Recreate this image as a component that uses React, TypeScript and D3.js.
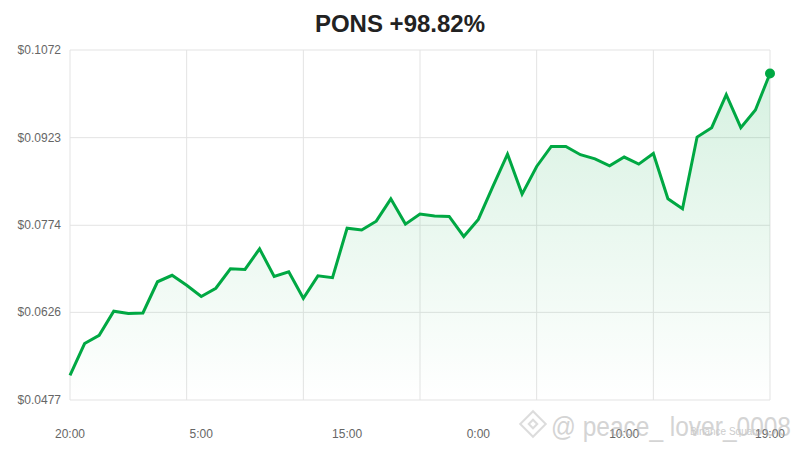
import { useEffect, useRef } from 'react'
import * as d3 from 'd3'

// hourly closes, 20:00 -> 19:00 (two days later)
const prices = [
  0.0519, 0.0573, 0.0587, 0.0628, 0.0624, 0.0625, 0.0678, 0.0689, 0.0672, 0.0653,
  0.0667, 0.0700, 0.0699, 0.0734, 0.0687, 0.0695, 0.0650, 0.0688, 0.0685, 0.0769,
  0.0766, 0.0781, 0.0819, 0.0776, 0.0793, 0.0790, 0.0789, 0.0755, 0.0784, 0.0840,
  0.0895, 0.0827, 0.0874, 0.0908, 0.0908, 0.0894, 0.0887, 0.0875, 0.0890, 0.0878,
  0.0896, 0.0819, 0.0802, 0.0924, 0.0940, 0.0996, 0.0940, 0.0970, 0.1032,
]
const yTicks = [0.0477, 0.0626, 0.0774, 0.0923, 0.1072]
const xTickIdx = [0, 9, 19, 28, 38, 48]
const xTickLabels = ['20:00', '5:00', '15:00', '0:00', '10:00', '19:00']
const title = 'PONS +98.82%'
const green = '#00a843'

export default function App() {
  const ref = useRef<SVGSVGElement | null>(null)

  useEffect(() => {
    const el = ref.current
    if (!el) return
    const svg = d3.select(el)
    svg.selectAll('*').remove()

    const m = { top: 50, right: 30, bottom: 50, left: 70 }
    const width = 800, height = 450
    const iw = width - m.left - m.right
    const ih = height - m.top - m.bottom

    const x = d3.scaleLinear().domain([0, prices.length - 1]).range([m.left, m.left + iw])
    const y = d3.scaleLinear().domain([yTicks[0], yTicks[yTicks.length - 1]]).range([m.top + ih, m.top])

    svg.append('rect').attr('width', width).attr('height', height).attr('fill', '#fff')

    const defs = svg.append('defs')
    const grad = defs.append('linearGradient').attr('id', 'fillGrad')
      .attr('x1', 0).attr('y1', 0).attr('x2', 0).attr('y2', 1)
    grad.append('stop').attr('offset', '0%').attr('stop-color', green).attr('stop-opacity', 0.16)
    grad.append('stop').attr('offset', '100%').attr('stop-color', green).attr('stop-opacity', 0.0)

    // grid
    const grid = svg.append('g').attr('stroke', '#e3e3e3').attr('stroke-width', 1)
    grid.selectAll('line.h').data(yTicks).join('line')
      .attr('x1', m.left).attr('x2', m.left + iw)
      .attr('y1', d => y(d)).attr('y2', d => y(d))
    grid.selectAll('line.v').data(d3.range(0, prices.length, 8)).join('line')
      .attr('x1', d => x(d)).attr('x2', d => x(d))
      .attr('y1', m.top).attr('y2', m.top + ih)

    // area + line
    const area = d3.area<number>().x((_, i) => x(i)).y0(m.top + ih).y1(d => y(d))
    svg.append('path').datum(prices).attr('d', area).attr('fill', 'url(#fillGrad)')

    const line = d3.line<number>().x((_, i) => x(i)).y(d => y(d))
    svg.append('path').datum(prices).attr('d', line)
      .attr('fill', 'none').attr('stroke', green).attr('stroke-width', 3)

    const last = prices.length - 1
    svg.append('circle').attr('cx', x(last)).attr('cy', y(prices[last])).attr('r', 5).attr('fill', green)

    // axes labels
    svg.append('g').selectAll('text').data(yTicks).join('text')
      .attr('x', m.left - 9).attr('y', d => y(d) + 4)
      .attr('text-anchor', 'end').attr('font-size', 12).attr('fill', '#666')
      .attr('font-family', 'Liberation Sans, Arial, sans-serif')
      .text(d => `$${d.toFixed(4)}`)

    svg.append('g').selectAll('text').data(xTickIdx).join('text')
      .attr('x', d => x(d)).attr('y', 438)
      .attr('text-anchor', 'middle').attr('font-size', 12).attr('fill', '#666')
      .attr('font-family', 'Liberation Sans, Arial, sans-serif')
      .text((_, i) => xTickLabels[i])

    svg.append('text').attr('x', 400).attr('y', 32).attr('text-anchor', 'middle')
      .attr('font-size', 24).attr('font-weight', 'bold').attr('fill', '#222')
      .attr('font-family', 'Liberation Sans, Arial, sans-serif')
      .text(title)

    // watermark
    const wm = svg.append('g').attr('opacity', 0.5)
    const lg = wm.append('g').attr('transform', 'translate(533,424)')
      .attr('fill', 'none').attr('stroke', '#bbb').attr('stroke-width', 2)
    lg.append('rect').attr('x', -9).attr('y', -9).attr('width', 18).attr('height', 18)
      .attr('transform', 'rotate(45)')
    lg.append('rect').attr('x', -3).attr('y', -3).attr('width', 6).attr('height', 6)
      .attr('transform', 'rotate(45)')
    wm.append('text').attr('x', 551).attr('y', 436).attr('font-size', 27).attr('fill', '#aaa')
      .attr('textLength', 240).attr('lengthAdjust', 'spacingAndGlyphs')
      .attr('font-family', 'Liberation Sans, Arial, sans-serif')
      .text('@ peace_ lover_0008')
    wm.append('text').attr('x', 690).attr('y', 435).attr('font-size', 10).attr('fill', '#999')
      .attr('font-family', 'Liberation Sans, Arial, sans-serif')
      .text('Binance Square')
  }, [])

  return <svg ref={ref} width={800} height={450} style={{ display: 'block', margin: -8 }} />
}
